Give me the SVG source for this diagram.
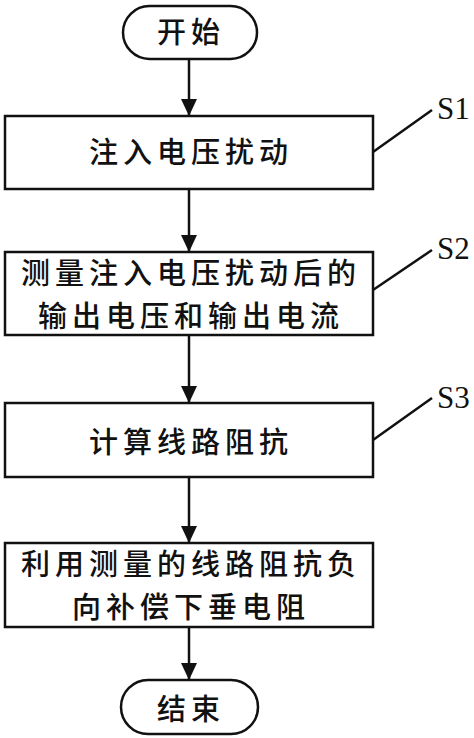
<svg xmlns="http://www.w3.org/2000/svg" width="474" height="738" viewBox="0 0 474 738">
<style>
.box{fill:#fff;stroke:#111;stroke-width:2.5}
.t{font-family:"Noto Sans CJK SC","Noto Sans CJK JP",sans-serif;font-size:29px;font-weight:500;fill:#111;text-anchor:middle;letter-spacing:5px}
.lab{font-family:"Liberation Serif",serif;font-size:31px;fill:#111}
.c{stroke:#111;stroke-width:2.5;fill:none}
</style>
<defs>
<marker id="ah" markerWidth="18" markerHeight="18" refX="17" refY="8" orient="auto" markerUnits="userSpaceOnUse">
<path d="M0,0 L17,8 L0,16 Z" fill="#111"/>
</marker>
</defs>
<rect width="474" height="738" fill="#fff"/>
<g id="connectors">
<line class="c" x1="189" y1="59" x2="189" y2="116" marker-end="url(#ah)"/>
<line class="c" x1="189" y1="189" x2="189" y2="252" marker-end="url(#ah)"/>
<line class="c" x1="189" y1="335" x2="189" y2="403" marker-end="url(#ah)"/>
<line class="c" x1="189" y1="477" x2="189" y2="543" marker-end="url(#ah)"/>
<line class="c" x1="189" y1="627" x2="189" y2="680" marker-end="url(#ah)"/>
<line class="c" x1="373" y1="152" x2="432" y2="110"/>
<line class="c" x1="373" y1="290" x2="432" y2="250"/>
<line class="c" x1="373" y1="440" x2="432" y2="398"/>
</g>
<g id="start">
<rect class="box" x="123" y="6" width="134" height="53" rx="26.5"/>
<text class="t" x="191" y="43">开始</text>
</g>
<g id="s1">
<rect class="box" x="5" y="116" width="368" height="73"/>
<text class="t" x="191" y="163">注入电压扰动</text>
<text class="lab" x="437" y="119">S1</text>
</g>
<g id="s2">
<rect class="box" x="5" y="252" width="368" height="83"/>
<text class="t" x="191" y="284">测量注入电压扰动后的</text>
<text class="t" x="191" y="327">输出电压和输出电流</text>
<text class="lab" x="437" y="259">S2</text>
</g>
<g id="s3">
<rect class="box" x="5" y="403" width="368" height="74"/>
<text class="t" x="191" y="453">计算线路阻抗</text>
<text class="lab" x="437" y="408">S3</text>
</g>
<g id="s4">
<rect class="box" x="5" y="543" width="368" height="84"/>
<text class="t" x="191" y="575">利用测量的线路阻抗负</text>
<text class="t" x="191" y="618">向补偿下垂电阻</text>
</g>
<g id="end">
<rect class="box" x="121" y="680" width="137" height="54" rx="27"/>
<text class="t" x="191" y="720">结束</text>
</g>
</svg>
